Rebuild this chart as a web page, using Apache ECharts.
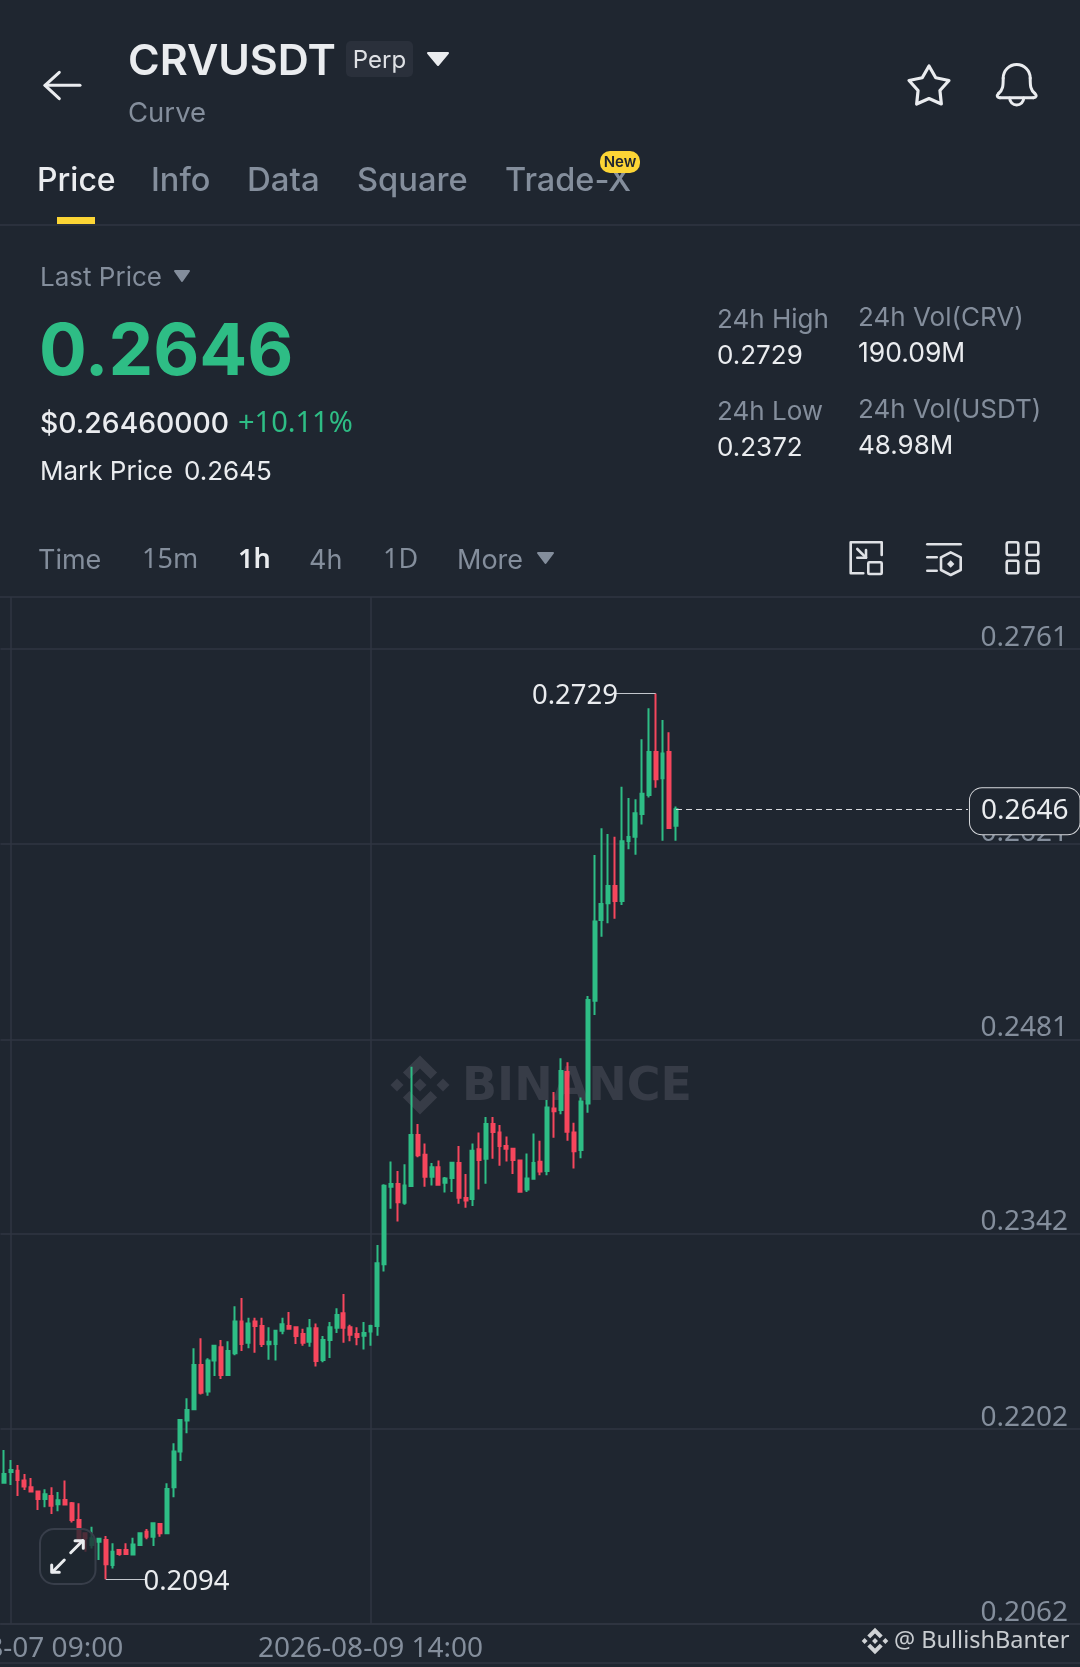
<!DOCTYPE html>
<html>
<head>
<meta charset="utf-8">
<style>html,body{margin:0;padding:0;background:#1f2630}#c{width:1080px;height:1667px}</style>
<script src="https://cdn.jsdelivr.net/npm/echarts@6/dist/echarts.min.js"></script>
</head>
<body>
<div id="c"></div>
<script>
const opens = [.21633,.21710,.21719,.21648,.21600,.21569,.21516,.21538,.21478,.21509,.21485,.21366,.21270,.21186,.21210,.21222,.21043,.21150,.21150,.21119,.21186,.21282,.21246,.21337,.21270,.21600,.21856,.22078,
.22159,.22477,.22286,.22508,.22603,.22405,.22560,.22788,.22637,.22788,.22756,.22625,.22627,.22723,.22756,.22747,.22699,.22644,.22740,.22513,.22656,.22744,.22847,.22747,.22699,.22687,.22716,.22756,
.23199,.23754,.23774,.23640,.23759,.24125,.23984,.23826,.23895,.23783,.23817,.23924,.23673,.23666,.24024,.23955,.24204,.24144,.24046,.24027,.23943,.23735,.23812,.23934,.23867,.24316,.24304,.24577,.24144,.24017,
.24352,.25088,.25666,.25786,.25910,.25803,.26233,.26264,.26427,.26563,.26871,.26682,.26871,.26343];
const closes = [.21695,.21724,.21652,.21605,.21569,.21516,.21550,.21468,.21507,.21476,.21366,.21234,.21234,.21234,.21232,.21048,.21138,.21122,.21122,.21189,.21270,.21246,.21342,.21270,.21588,.21856,.22083,.22154,
.22477,.22278,.22508,.22615,.22405,.22577,.22788,.22627,.22775,.22756,.22627,.22644,.22723,.22768,.22737,.22685,.22637,.22740,.22505,.22656,.22747,.22835,.22744,.22694,.22678,.22706,.22756,.23206,
.23762,.23774,.23644,.23764,.24125,.23981,.23826,.23895,.23769,.23814,.23926,.23676,.23656,.24013,.23946,.24204,.24146,.24046,.24027,.23946,.23719,.23814,.23924,.23864,.24323,.24295,.24584,.24149,.24008,.24366,
.25093,.25655,.25781,.25910,.25803,.26231,.26262,.26431,.26572,.26871,.26675,.26861,.26326,.26460];
const lows = [.21629,.21617,.21538,.21581,.21566,.21437,.21457,.21409,.21428,.21471,.21347,.21174,.21138,.21162,.21079,.20940,.21017,.21110,.21119,.21117,.21182,.21227,.21179,.21246,.21268,.21528,.21789,.21987,
.22159,.22266,.22257,.22398,.22376,.22398,.22546,.22577,.22596,.22565,.22606,.22515,.22508,.22697,.22735,.22627,.22615,.22608,.22465,.22496,.22527,.22706,.22637,.22646,.22618,.22587,.22615,.22687,
.23146,.23597,.23506,.23625,.23754,.23965,.23754,.23764,.23762,.23714,.23716,.23633,.23604,.23616,.23735,.23776,.23955,.23905,.23936,.23845,.23716,.23716,.23807,.23836,.23836,.24106,.24275,.24084,.23886,.23958,
.24285,.24986,.25547,.25643,.25676,.25774,.26173,.26135,.26352,.26544,.26615,.26235,.26326,.26235];
const highs = [.21868,.21796,.21760,.21695,.21667,.21576,.21586,.21600,.21566,.21648,.21495,.21485,.21277,.21318,.21239,.21251,.21198,.21155,.21198,.21239,.21277,.21301,.21349,.21337,.21629,.21915,.22083,.22238,
.22596,.22668,.22525,.22615,.22656,.22646,.22897,.22957,.22816,.22816,.22816,.22747,.22728,.22816,.22857,.22747,.22737,.22807,.22775,.22685,.22785,.22883,.22986,.22766,.22747,.22785,.22766,.23337,
.23772,.23936,.23867,.23915,.24615,.24204,.24065,.23924,.23943,.23824,.23934,.24046,.23845,.24065,.24144,.24254,.24254,.24197,.24115,.24034,.23946,.23993,.24137,.24084,.24376,.24433,.24675,.24646,.24213,.24395,
.25122,.26133,.26324,.26283,.26264,.26622,.26541,.26532,.26962,.27184,.27290,.27100,.27012,.26480];

const yTicks = [0.2062, 0.2202, 0.2342, 0.2481, 0.2621, 0.2761];
const yMin = 0.2062, yMax = 0.27982;
const xTickLabels = {1: '2026-08-07 09:00', 54: '2026-08-09 14:00'};
const lastPrice = 0.2646, highPrice = 0.2729, lowPrice = 0.2094;
const axisSlots = 159;
const categories = [];
for (let i = 0; i < axisSlots; i++) categories.push(xTickLabels[i] || String(i));
const candles = opens.map((o, i) => [o, closes[i], lows[i], highs[i]]);

const GREEN = '#2ebd85', RED = '#f6465d', BG = '#1f2630', LINE = '#303642', MUTED = '#848e9c', WHITE = '#eaecef';
const UI = 'Inter', NUM = '"Noto Sans"';

function T(text, x, y, size, fill, weight, family, align) {
  return {type: 'text', z: 20, style: {text, x, y, fill: fill || WHITE, font: (weight || 400) + ' ' + size + 'px ' + (family || UI), textAlign: align || 'left', textVerticalAlign: 'middle'}};
}
function PL(points, color, w, z) {
  return {type: 'polyline', z: z || 20, shape: {points}, style: {stroke: color || WHITE, lineWidth: w || 2.6, fill: 'none', lineCap: 'round', lineJoin: 'round'}};
}
function TRI(x1, x2, y1, y2, color) {
  return {type: 'polygon', z: 20, shape: {points: [[x1, y1], [x2, y1], [(x1 + x2) / 2, y2]]}, style: {fill: color, stroke: color, lineWidth: 2, lineJoin: 'round'}};
}
function RR(x, y, width, height, r, fill, stroke, lw, z) {
  return {type: 'rect', z: z || 20, shape: {x, y, width, height, r}, style: {fill: fill || 'none', stroke: stroke || 'none', lineWidth: lw || 0}};
}
function BZ(x1, y1, cpx1, cpy1, cpx2, cpy2, x2, y2) {
  return {type: 'bezierCurve', z: 20, shape: {x1, y1, cpx1, cpy1, cpx2, cpy2, x2, y2}, style: {fill: 'none', stroke: WHITE, lineWidth: 3, lineCap: 'round'}};
}
function AR(cx, cy, r, startAngle, endAngle) {
  return {type: 'arc', z: 20, shape: {cx, cy, r, startAngle, endAngle, clockwise: true}, style: {fill: 'none', stroke: WHITE, lineWidth: 3, lineCap: 'round'}};
}
function logo(cx, cy, R, color, z) {
  const P = pts => ({type: 'polygon', z, shape: {points: pts.map(p => [cx + p[0] * R, cy + p[1] * R])}, style: {fill: color}});
  const d = (c, h) => P([[c, -h], [c + h, 0], [c, h], [c - h, 0]]);
  return [d(0, .22), d(-.78, .22), d(.78, .22),
    P([[0, -1], [.58, -.42], [.36, -.2], [0, -.56], [-.36, -.2], [-.58, -.42]]),
    P([[0, 1], [.58, .42], [.36, .2], [0, .56], [-.36, .2], [-.58, .42]])];
}
const starOuter = 21, starInner = 11.5, starC = [929, 87];
const starPts = [];
for (let i = 0; i < 10; i++) {
  const a = -Math.PI / 2 + i * Math.PI / 5, r = i % 2 ? starInner : starOuter;
  starPts.push([starC[0] + r * Math.cos(a), starC[1] + r * Math.sin(a)]);
}
const creditText = T('@ BullishBanter', 894, 1641, 23.5, '#c8ccd0', 400, NUM);
Object.assign(creditText.style, {shadowColor: 'rgba(0,0,0,0.6)', shadowBlur: 2, shadowOffsetX: 1, shadowOffsetY: 1});

const graphics = [
  // watermark
  ...logo(420, 1085, 29.5, '#373c47', 0),
  {type: 'text', z: 0, style: {text: 'BINANCE', x: 462, y: 1088, fill: '#373c47', font: '700 46px "DejaVu Sans"', textVerticalAlign: 'middle'}},
  // header
  PL([[45, 85.3], [80, 85.3]], WHITE, 3), PL([[59.3, 72.3], [45, 85.3], [59.3, 98.7]], WHITE, 3),
  T('CRVUSDT', 128, 62, 43, WHITE, 600),
  RR(346, 41, 67, 36, 5, '#2a303b'),
  T('Perp', 379.5, 61, 24, '#dfe1e5', 400, UI, 'center'),
  TRI(428, 448, 53, 65, WHITE),
  T('Curve', 128, 114, 27.5, MUTED),
  {type: 'polygon', z: 20, shape: {points: starPts}, style: {fill: 'none', stroke: WHITE, lineWidth: 3.2, lineJoin: 'round'}},
  AR(1016.7, 78, 13.5, Math.PI, 2 * Math.PI),
  BZ(1003.2, 78, 1003.2, 86, 1003, 90, 998.5, 93.5),
  BZ(1030.2, 78, 1030.2, 86, 1030.4, 90, 1034.9, 93.5),
  BZ(998.5, 93.5, 996.5, 95.5, 997, 97.7, 1000, 97.7),
  BZ(1034.9, 93.5, 1036.9, 95.5, 1036.4, 97.7, 1033.4, 97.7),
  PL([[1000, 97.7], [1033.4, 97.7]], WHITE, 3),
  AR(1016.7, 98, 7, 0, Math.PI),
  // tabs
  T('Price', 37, 181, 32, WHITE, 500),
  T('Info', 151, 181, 32.5, MUTED, 500),
  T('Data', 247, 181, 33, MUTED, 500),
  T('Square', 357, 181, 32.7, MUTED, 500),
  T('Trade-X', 505, 181, 32.5, MUTED, 500),
  RR(600, 151, 40, 22, 10, '#fcd535'),
  T('New', 620, 162, 15, '#202630', 600, UI, 'center'),
  RR(57, 217, 38, 7, 0, '#fcd535'),
  {type: 'line', z: 20, shape: {x1: 0, y1: 225, x2: 1080, y2: 225}, style: {stroke: LINE, lineWidth: 1.5}},
  // price panel
  T('Last Price', 40, 278, 26, MUTED),
  TRI(175, 189, 271, 281, MUTED),
  T('0.2646', 39, 354, 71, GREEN, 700),
  T('$0.26460000', 40, 424, 28.3, WHITE, 500),
  T('+10.11%', 238, 424, 29, GREEN, 400, NUM),
  T('Mark Price', 40, 472, 26, WHITE, 400),
  T('0.2645', 184, 472, 26, WHITE, 400),
  T('24h High', 717, 320, 26, MUTED), T('0.2729', 717, 356, 26, WHITE),
  T('24h Low', 717, 412, 26, MUTED), T('0.2372', 717, 448, 26, WHITE),
  T('24h Vol(CRV)', 858, 318, 26, MUTED), T('190.09M', 858, 354, 26.5, WHITE),
  T('24h Vol(USDT)', 858, 410, 26, MUTED), T('48.98M', 858, 446, 26, WHITE),
  // interval bar
  T('Time', 38, 561, 27, MUTED), T('15m', 142, 560, 27, MUTED, 400, NUM), T('1h', 238, 560, 27, WHITE, 600, NUM),
  T('4h', 309, 561, 27, MUTED), T('1D', 383, 560, 27, MUTED, 400, NUM), T('More', 457, 561, 27, MUTED),
  TRI(538, 553, 553, 563, MUTED),
  PL([[863.3, 573.3], [850.7, 573.3], [850.7, 542.3], [881.7, 542.3], [881.7, 555]], '#dfe1e5'),
  RR(868.3, 562.3, 13.4, 11.7, 1, 'none', '#dfe1e5', 2.6),
  PL([[857.3, 549], [866, 557.7]], '#dfe1e5'), PL([[866, 550], [866, 557.7], [857.3, 557.7]], '#dfe1e5'),
  PL([[927.3, 544.3], [960.7, 544.3]], '#dfe1e5'), PL([[927.3, 557.3], [936.7, 557.3]], '#dfe1e5'), PL([[927.3, 570.7], [936.7, 570.7]], '#dfe1e5'),
  {type: 'polygon', z: 20, shape: {points: [[950.7, 552.3], [960.7, 557.3], [960.7, 570], [950.7, 575], [941, 570], [941, 557.3]]}, style: {fill: 'none', stroke: '#dfe1e5', lineWidth: 2.6, lineJoin: 'round'}},
  {type: 'polygon', z: 20, shape: {points: [[950.7, 560.3], [954.4, 564], [950.7, 567.7], [947, 564]]}, style: {fill: '#dfe1e5'}},
  RR(1006.7, 542.3, 11.6, 12.7, 2, 'none', '#dfe1e5', 2.6), RR(1026.7, 542.3, 11.6, 12.7, 2, 'none', '#dfe1e5', 2.6),
  RR(1006.7, 560.7, 11.6, 12.6, 2, 'none', '#dfe1e5', 2.6), RR(1026.7, 560.7, 11.6, 12.6, 2, 'none', '#dfe1e5', 2.6),
  {type: 'line', z: 1, shape: {x1: 0, y1: 597, x2: 1080, y2: 597}, style: {stroke: LINE, lineWidth: 1.5}},
  {type: 'line', z: 1, shape: {x1: 0, y1: 1663, x2: 1080, y2: 1663}, style: {stroke: LINE, lineWidth: 1.5}},
  // fullscreen button
  RR(40, 1529, 55.5, 55, 14, 'rgba(31,38,48,0.78)', '#383e4a', 2, 30),
  PL([[70.7, 1552.7], [82.7, 1540.7]], WHITE, 3, 31), PL([[75, 1540.7], [83.3, 1540.7], [83.3, 1548.3]], WHITE, 3, 31),
  PL([[64.3, 1560], [52.7, 1571.7]], WHITE, 3, 31), PL([[51.7, 1565], [51.7, 1572.3], [59.3, 1572.3]], WHITE, 3, 31),
  // credit
  ...logo(875, 1641, 13.3, '#d0d3d6', 20),
  creditText
];

const extremeLabel = {show: true, position: 'end', distance: 1, color: WHITE, fontFamily: NUM, fontSize: 27.5};
const extremeLine = {color: '#c3c7cd', width: 1, type: 'solid'};

const chart = echarts.init(document.getElementById('c'), null, {renderer: 'canvas', width: 1080, height: 1667});
chart.setOption({
  animation: false,
  backgroundColor: BG,
  grid: {left: 0.5, right: 0, top: 597, bottom: 43, containLabel: false, outerBoundsMode: 'none'},
  xAxis: {
    type: 'category', data: categories, boundaryGap: true,
    axisLine: {show: true, lineStyle: {color: LINE, width: 1.5}},
    axisTick: {show: false},
    axisLabel: {
      interval: i => xTickLabels[i] !== undefined, color: MUTED, fontFamily: NUM, fontSize: 28, margin: 11,
      hideOverlap: false
    },
    splitLine: {show: true, alignWithLabel: true, interval: i => xTickLabels[i] !== undefined, lineStyle: {color: LINE, width: 1.5}}
  },
  yAxis: {
    type: 'value', position: 'right', min: yMin, max: yMax, scale: true,
    axisLine: {show: false},
    axisTick: {show: false, customValues: yTicks},
    axisLabel: {
      customValues: yTicks, inside: true, margin: 12, color: MUTED, fontFamily: NUM, fontSize: 28,
      verticalAlign: 'bottom', lineHeight: 22, formatter: v => v.toFixed(4), hideOverlap: false
    },
    splitLine: {show: true, lineStyle: {color: LINE, width: 1.5}}
  },
  graphic: {elements: graphics},
  series: [{
    type: 'candlestick', data: candles, barWidth: 3.4, clip: false,
    itemStyle: {color: GREEN, color0: RED, borderColor: GREEN, borderColor0: RED, borderWidth: 2},
    markLine: {
      silent: true, symbol: 'none', animation: false, precision: 4,
      data: [
        [{coord: [96, highPrice], lineStyle: extremeLine, label: Object.assign({}, extremeLabel, {formatter: highPrice.toFixed(4), offset: [4, 3]})}, {coord: [90, highPrice]}],
        [{coord: [15, lowPrice], lineStyle: extremeLine, label: Object.assign({}, extremeLabel, {formatter: lowPrice.toFixed(4), offset: [-4, 3]})}, {coord: [21, lowPrice]}],
        [{coord: [99, lastPrice], lineStyle: {color: '#d8dade', width: 1, type: [6, 4]},
          label: {show: true, position: 'end', distance: 0, offset: [2, 2], formatter: lastPrice.toFixed(4), color: WHITE, fontFamily: NUM, fontSize: 28,
            backgroundColor: BG, borderColor: '#d8dade', borderWidth: 1, borderRadius: 12, padding: [11, 11, 7, 11]}},
         {coord: [142, lastPrice]}]
      ]
    }
  }]
});
</script>
</body>
</html>
